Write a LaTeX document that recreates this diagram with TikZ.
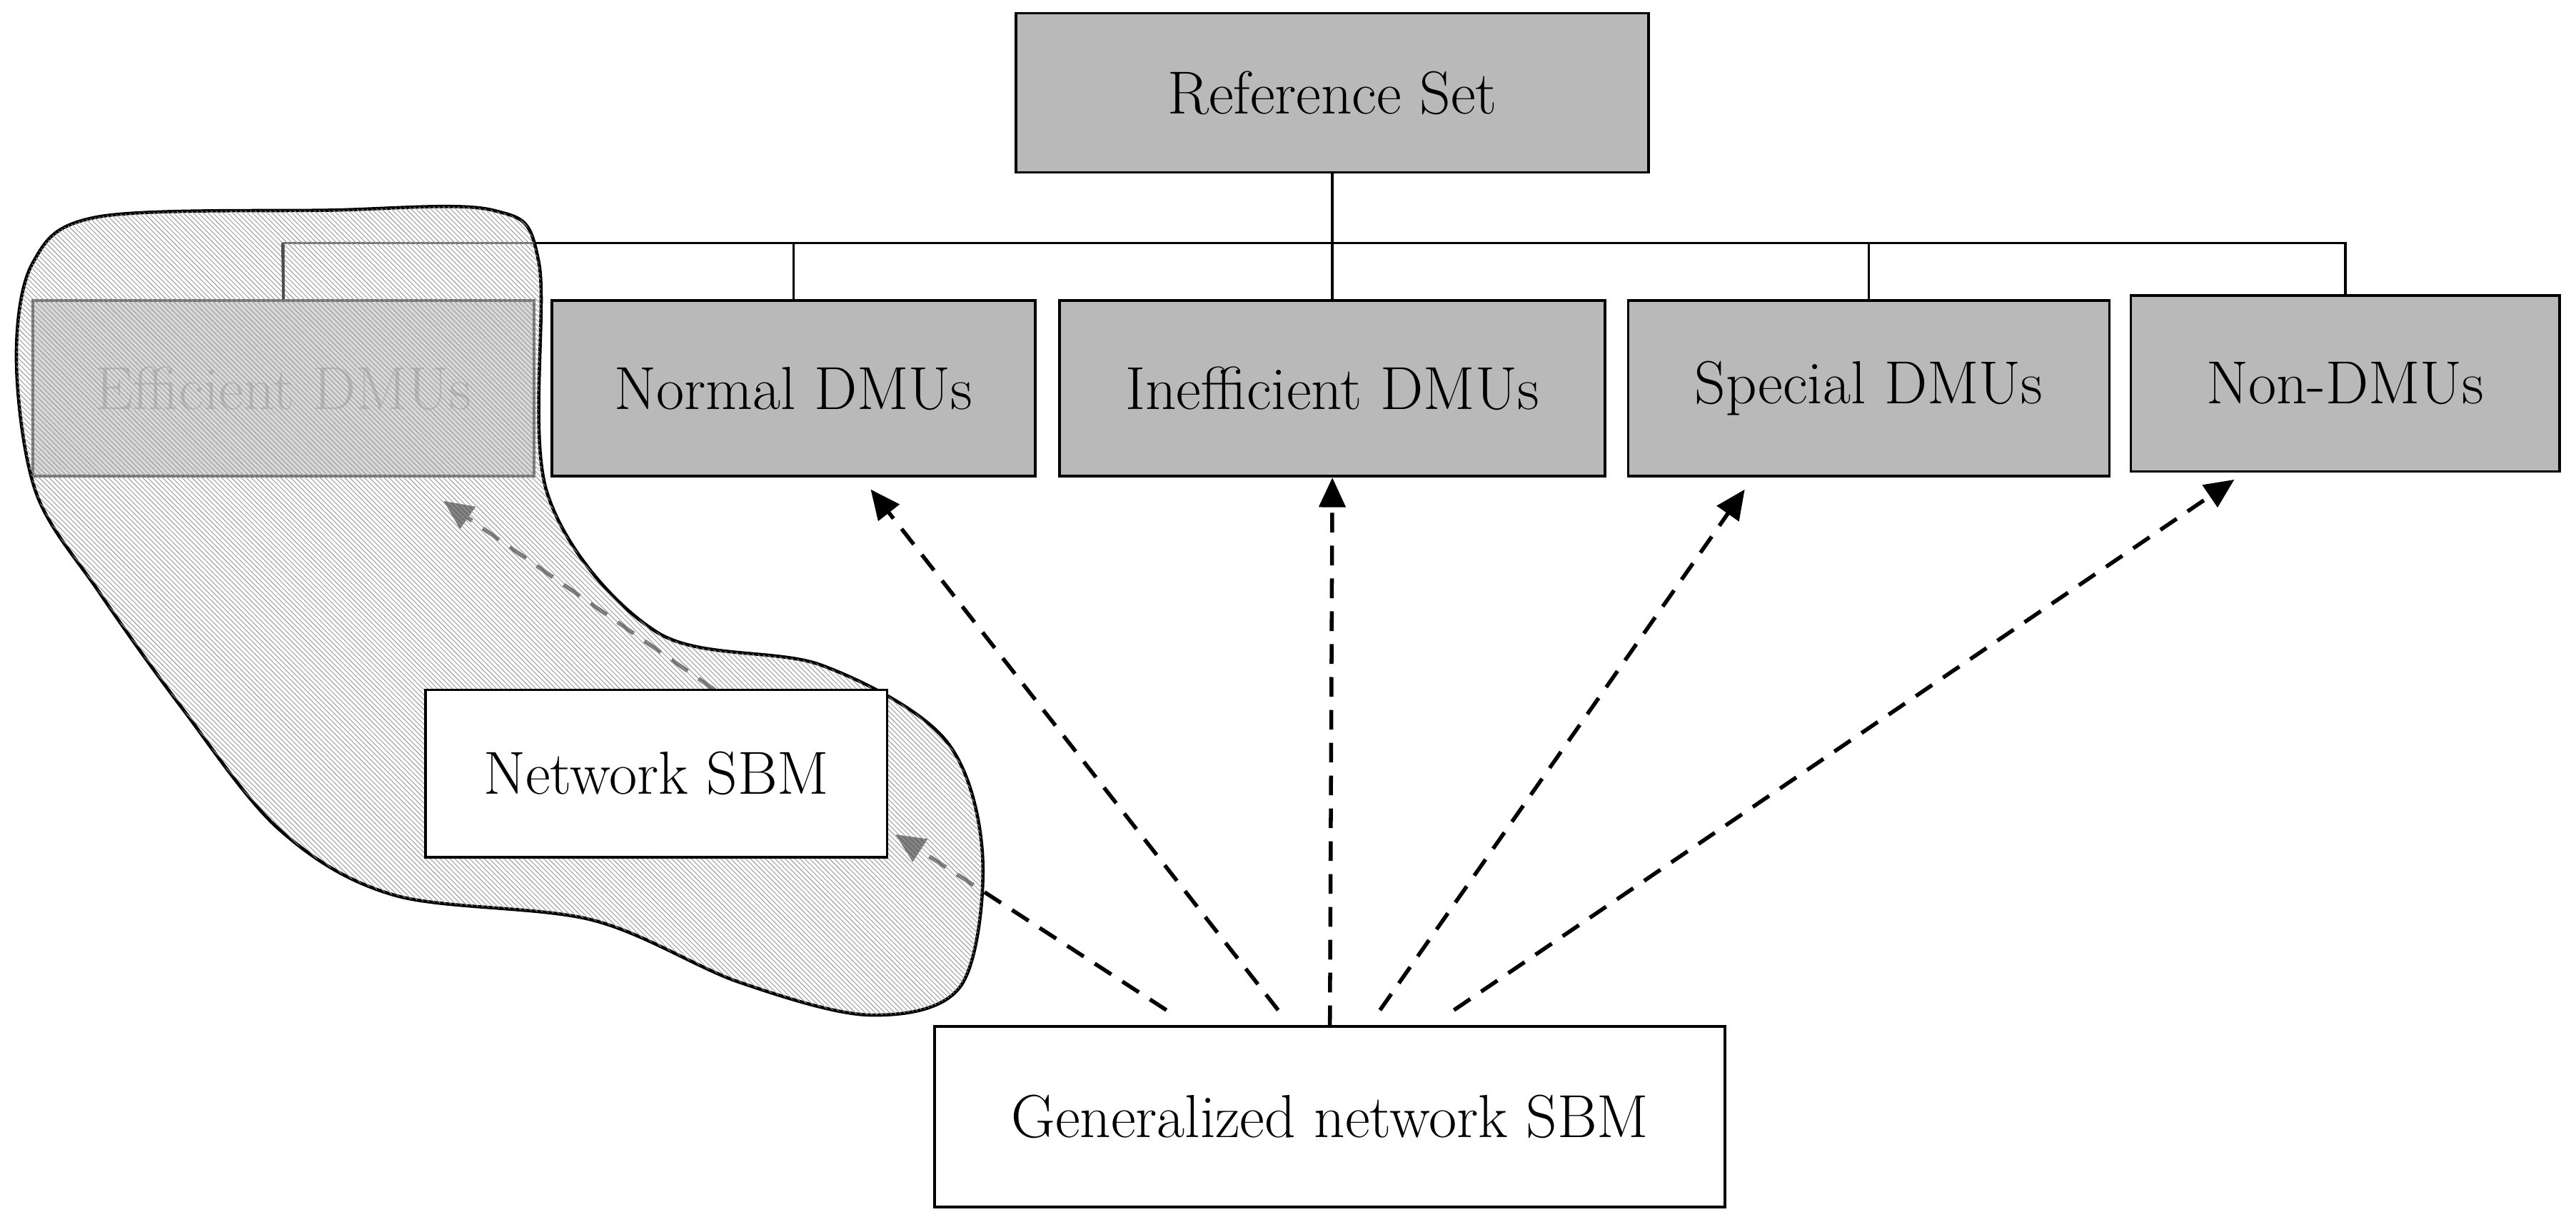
\documentclass[tikz,border=0pt]{standalone}
\usetikzlibrary{arrows.meta,patterns}
\begin{document}
\begin{tikzpicture}[x=1pt,y=-1pt,
 box/.style={draw,line width=1.6pt,fill=gray!55,minimum height=107pt,font=\fontsize{37}{44}\selectfont},
 wbox/.style={draw,line width=1.6pt,fill=white,font=\fontsize{37}{44}\selectfont},
 con/.style={line width=1.6pt},
 arr/.style={line width=2.4pt,dash pattern=on 12pt off 8pt,-{Triangle[length=18pt,width=16pt]}},
 dl/.style={line width=2.4pt,dash pattern=on 12pt off 8pt}]
\useasboundingbox (0,0) rectangle (1568,747);
\node[box,minimum width=385pt,minimum height=97pt] (ref) at (811,56.5) {Reference Set};
\node[box,minimum width=305pt,text=gray] (eff) at (172.5,236.5) {Efficient DMUs};
\node[box,minimum width=294pt] (nor) at (483,236.5) {Normal DMUs};
\node[box,minimum width=332pt] (ine) at (811,236.5) {Inefficient DMUs};
\node[box,minimum width=293pt] (spe) at (1137.5,236.5) {Special DMUs};
\node[box,minimum width=261pt] (non) at (1427.5,233.5) {Non-DMUs};
\node[wbox,minimum width=481pt,minimum height=110pt] (gen) at (809.5,680) {Generalized network SBM};
\coordinate (bar) at (811,148);
\draw[con] (ref.south) -- (bar);
\draw[con] (eff.north) |- (bar) -| (non.north);
\draw[con] (nor.north) -- (nor.north |- bar);
\draw[con] (spe.north) -- (spe.north |- bar);
\draw[con] (ine.north) -- (bar);
\coordinate (g1) at (710,615);
\coordinate (g2) at (778,615);
\coordinate (g4) at (840,615);
\coordinate (g5) at (885,615);
\coordinate (n1) at (435,420);
\draw[arr] (g2) -- (530,298);
\draw[arr] (gen.north) -- (ine.south);
\draw[arr] (g4) -- (1062,298);
\draw[arr] (g5) -- (1360,292);
\draw[arr] (n1) -- (270,305);
\draw[arr] (g1) -- (545,508);
\draw[line width=2pt,fill=white,fill opacity=0.45,postaction={pattern=north west lines,pattern color=gray!80}]
 plot[smooth cycle,tension=0.55] coordinates {(20,160) (60,132) (200,128) (300,128) (328,160) (333,300) (400,385) (500,405) (575,450) (598,520) (585,600) (530,618) (450,598) (360,560) (240,545) (170,505) (110,430) (60,360) (22,300) (10,220)};
\node[wbox,minimum width=281pt,minimum height=102pt] (net) at (399.5,471) {Network SBM};
\draw[con,gray!60!black] (eff.north) -- (172,148);
\end{tikzpicture}
\end{document}
